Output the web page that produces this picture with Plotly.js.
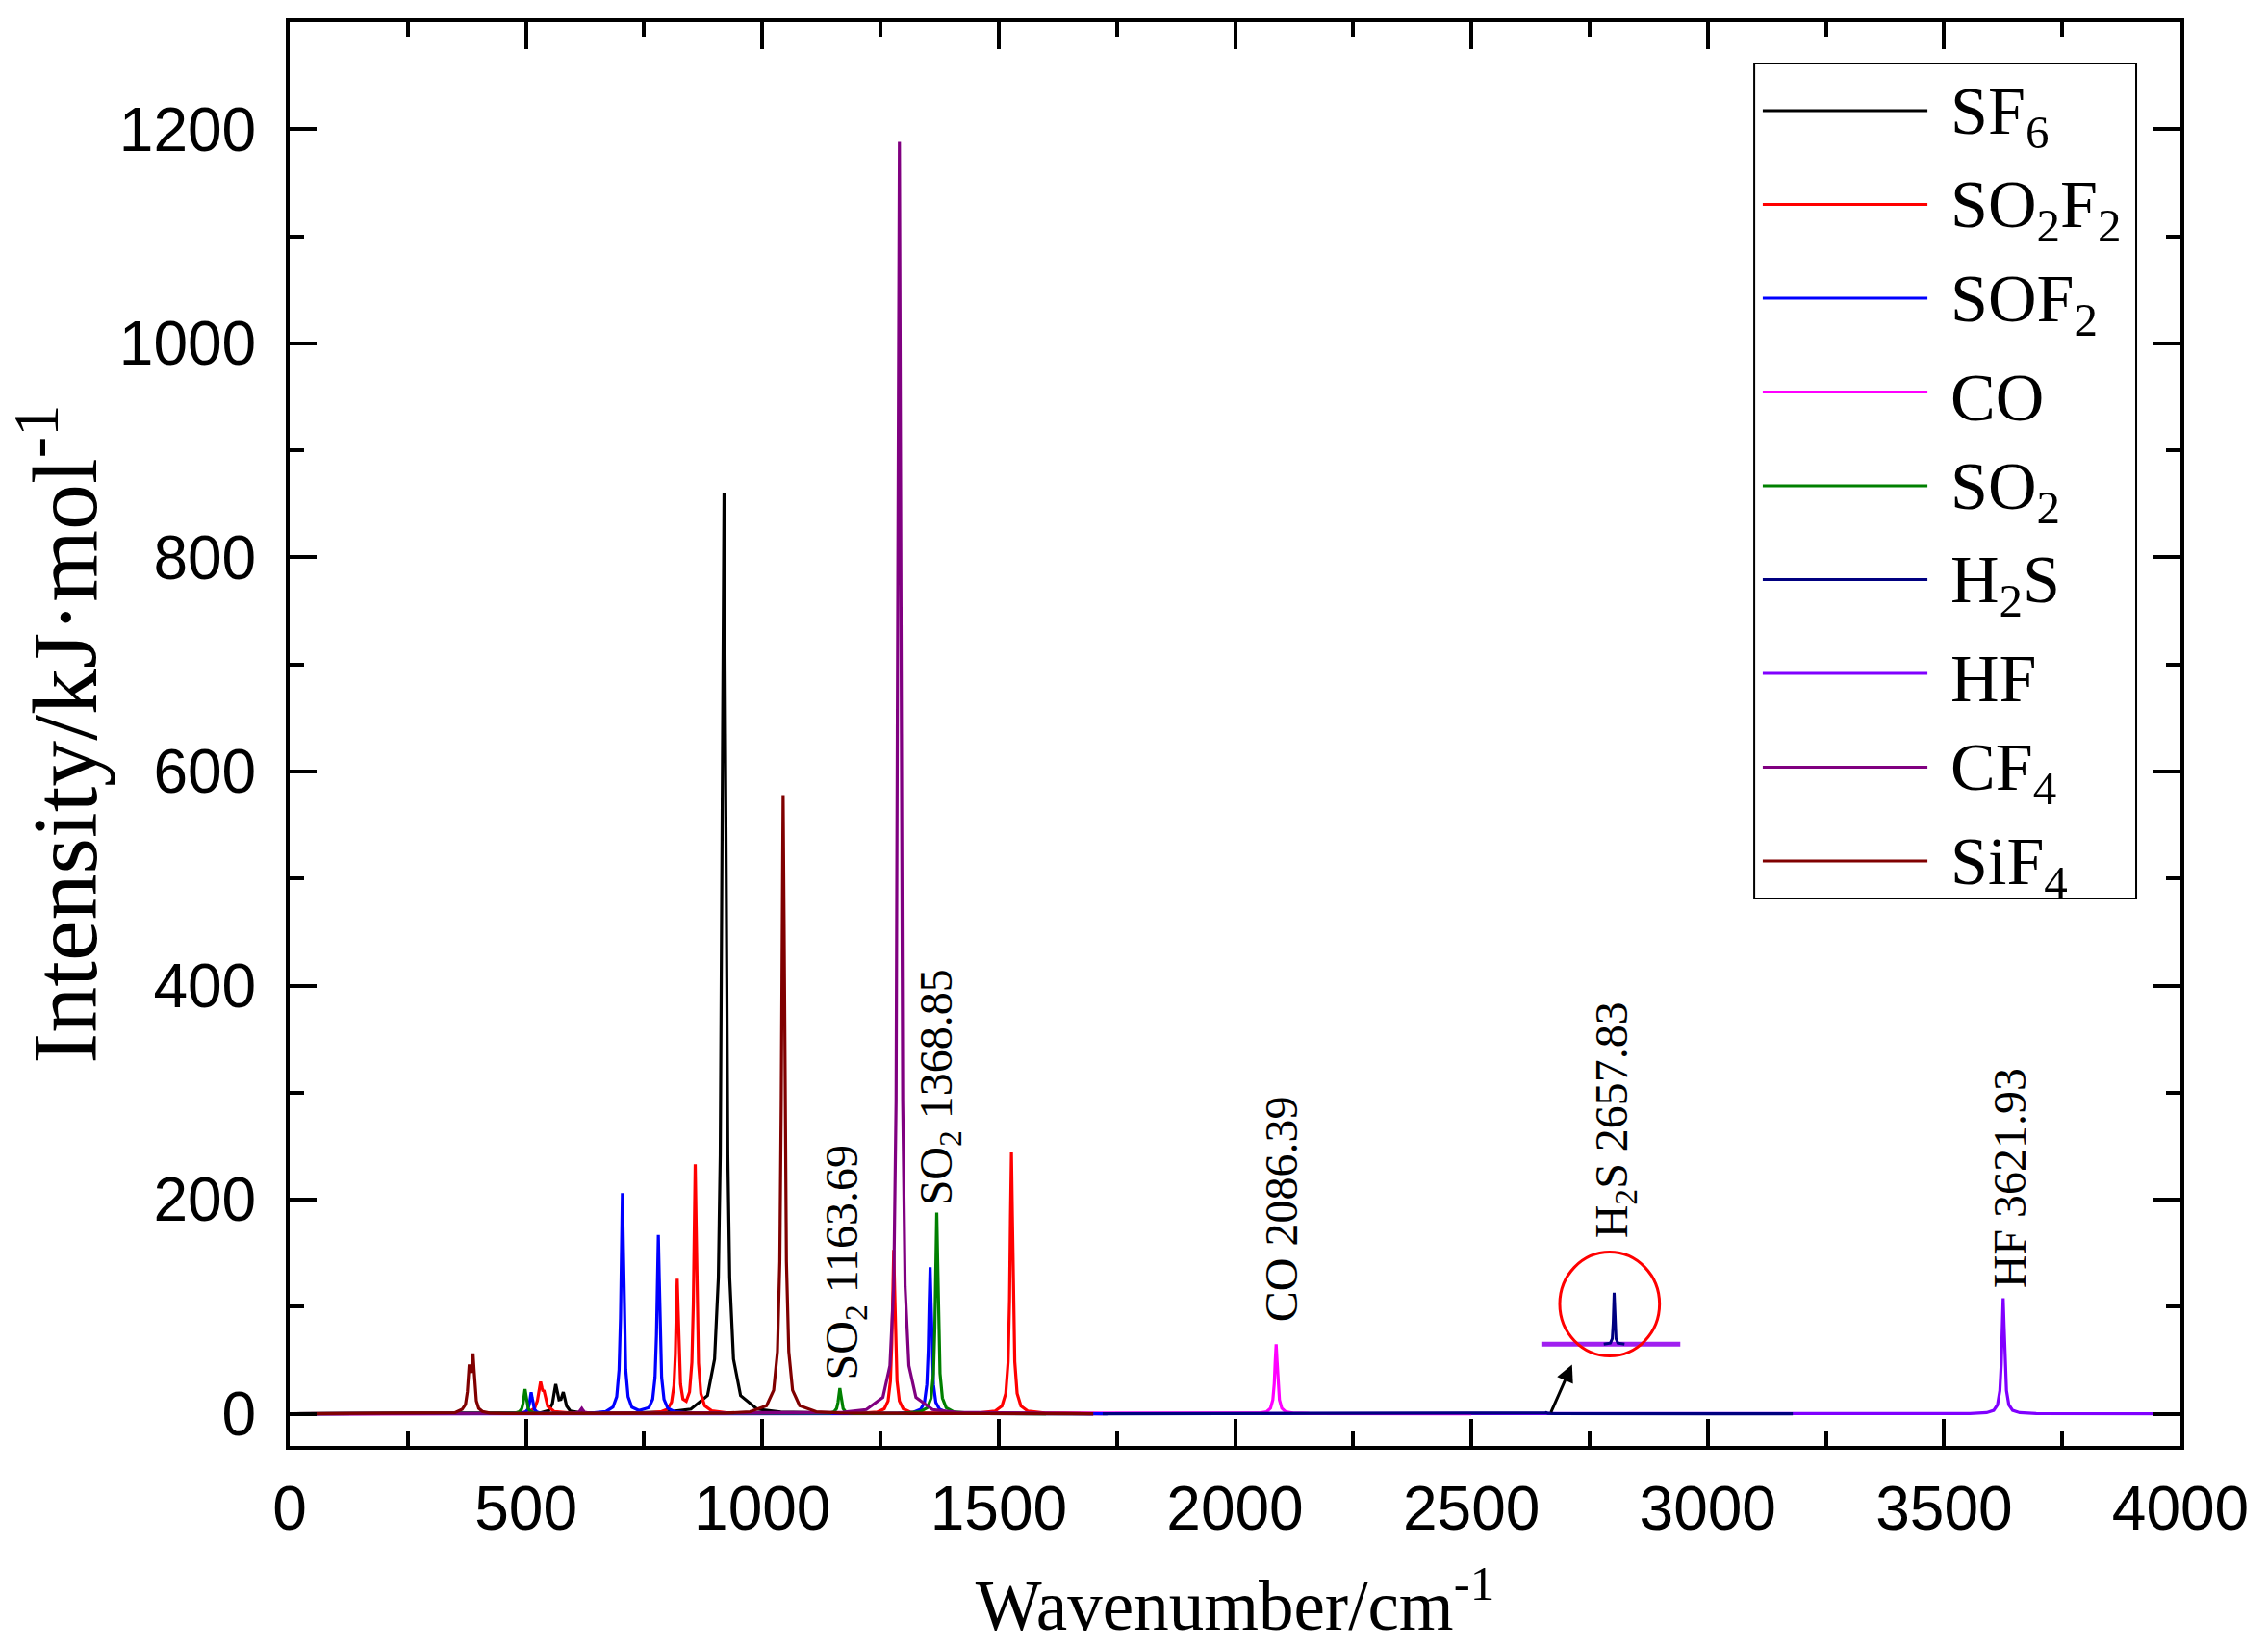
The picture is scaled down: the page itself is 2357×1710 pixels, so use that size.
<!DOCTYPE html>
<html>
<head>
<meta charset="utf-8">
<script src="https://cdn.plot.ly/plotly-3.0.1.min.js"></script>
<style>html,body{margin:0;padding:0;background:#fff;}#chart{width:2357px;height:1710px;}</style>
</head>
<body>
<div id="chart"></div>
<script>
// ---- Data ----
const seriesNames = ['SF<sub>6</sub>', 'SO<sub>2</sub>F<sub>2</sub>', 'SOF<sub>2</sub>', 'CO', 'SO<sub>2</sub>', 'H<sub>2</sub>S', 'HF', 'CF<sub>4</sub>', 'SiF<sub>4</sub>'];
const seriesColors = ['#000000', '#FF0000', '#0000FF', '#FF00FF', '#008000', '#000080', '#8000FF', '#800080', '#800000'];

const sf6X = [0, 480, 530, 548, 556, 560, 563, 566, 570, 574, 576, 579, 582, 586, 594, 615, 660, 799, 849, 884, 899, 907, 911, 914, 916, 919, 922, 924, 927, 931, 939, 954, 989, 1039, 1200, 1700];
const sf6Y = [0, 0.1, 0.8, 3.0, 9.6, 20.3, 27.6, 21.4, 13.0, 13.4, 16.6, 20.3, 14.9, 7.3, 2.4, 0.9, 0.2, 1.5, 4.3, 17, 51, 127, 241, 430, 632, 860, 632, 430, 241, 127, 51, 17, 4.3, 1.5, 0.3, 0];

const so2f2X = [0, 470, 505, 518, 524, 528, 531, 534, 536, 538, 541, 546, 560, 600, 750, 785, 800, 808, 813, 816, 818, 820, 822, 824, 827, 832, 839, 846, 851, 854, 856, 858, 860, 862, 865, 870, 878, 893, 928, 1000, 1208, 1243, 1258, 1266, 1271, 1274, 1276, 1278, 1280, 1282, 1285, 1290, 1298, 1313, 1348, 1457, 1492, 1507, 1515, 1520, 1523, 1525, 1527, 1529, 1531, 1534, 1539, 1547, 1562, 1597, 1720];
const so2f2Y = [0, 0.3, 1.5, 5, 12, 23, 30, 24, 21, 22, 16, 7, 2, 0.5, 0.55, 1.7, 4.5, 10.8, 26.2, 55.4, 95.3, 126, 95.7, 56, 27.7, 13.8, 11.7, 20.3, 48, 102, 176, 233, 176, 101.6, 47.2, 18.8, 7.5, 2.7, 0.8, 0.2, 0.4, 1.5, 4.6, 11.9, 30.6, 66.4, 115.4, 153, 115.4, 66.4, 30.6, 11.9, 4.6, 1.5, 0.4, 0.6, 2.4, 7.3, 19, 48.8, 106, 184, 244, 184, 106, 48.8, 19, 7.3, 2.4, 0.6, 0];

const sof2X = [0, 441, 476, 491, 499, 504, 507, 509, 511, 513, 515, 518, 523, 531, 546, 634, 669, 684, 692, 697, 700, 702, 704, 706, 708, 711, 716, 724, 739, 760, 768, 773, 776, 778, 780, 782, 784, 787, 792, 800, 815, 850, 1285, 1320, 1335, 1343, 1348, 1351, 1353, 1355, 1357, 1359, 1362, 1367, 1375, 1390, 1425, 1730];
const sof2Y = [0, 0.05, 0.2, 0.6, 1.6, 4, 8.7, 15, 20, 15, 8.7, 4, 1.6, 0.6, 0.2, 0.5, 2, 6.2, 16, 41, 89, 155, 206, 155, 89, 41, 16, 6.2, 3.0, 5.8, 13.6, 34, 73, 126, 167, 126, 73, 34, 13.5, 5.2, 1.7, 0.5, 0.3, 1.4, 4.1, 10.7, 27.4, 59.5, 103, 137, 103, 59.5, 27.4, 10.7, 4.1, 1.4, 0.3, 0];

const coX = [0, 2017, 2052, 2067, 2075, 2080, 2083, 2085, 2087, 2089, 2091, 2094, 2099, 2107, 2122, 2157, 2500];
const coY = [0, 0.16, 0.64, 1.95, 5.1, 13, 28, 49, 65, 49, 28, 13, 5.1, 1.95, 0.64, 0.16, 0];

const so2X = [0, 428, 463, 478, 486, 491, 494, 496, 498, 500, 502, 505, 510, 518, 533, 1094, 1129, 1144, 1152, 1157, 1160, 1162, 1164, 1166, 1168, 1171, 1176, 1184, 1199, 1299, 1334, 1349, 1357, 1362, 1365, 1367, 1369, 1371, 1373, 1376, 1381, 1389, 1404, 1439, 1600];
const so2Y = [0, 0.06, 0.23, 0.7, 1.8, 4.6, 10, 17.3, 23, 17.3, 10, 4.6, 1.8, 0.7, 0.23, 0.06, 0.24, 0.7, 1.9, 4.8, 10.4, 18, 24, 18, 10.4, 4.8, 1.9, 0.7, 0.24, 0.5, 1.9, 5.6, 14.7, 37.6, 81.6, 142, 188, 142, 81.6, 37.6, 14.7, 5.6, 1.9, 0.5, 0];

const h2sX = [1720, 2640, 2654, 2656, 2658, 2660, 2662, 2676, 3180];
const h2sY = [0, 0.1, 0.4, 0.8, 1.0, 0.8, 0.4, 0.1, 0];

const hfX = [0, 3555, 3590, 3605, 3613, 3618, 3621, 3623, 3625, 3627, 3629, 3632, 3637, 3645, 3660, 3695, 4000];
const hfY = [0, 0.27, 1.07, 3.2, 8.4, 21.6, 47, 81.4, 108, 81.4, 47, 21.6, 8.4, 3.2, 1.07, 0.27, 0];

const cf4X = [0, 600, 612, 615, 618, 621, 624, 636, 1170, 1220, 1255, 1270, 1278, 1283, 1286, 1288, 1290, 1292, 1294, 1297, 1302, 1310, 1325, 1360, 1410, 1700];
const cf4Y = [0, 0.5, 1.5, 3, 5, 3, 1.5, 0.5, 1.3, 3.9, 15.4, 45, 119, 292, 594, 950, 1188, 950, 594, 292, 119, 45, 15.4, 3.9, 1.3, 0];

const sif4X = [0, 300, 330, 350, 365, 372, 376, 378, 380, 382, 384, 386, 388, 390, 392, 395, 400, 408, 423, 460, 924, 974, 1009, 1024, 1032, 1037, 1040, 1042, 1044, 1046, 1048, 1051, 1056, 1064, 1079, 1114, 1164, 1700];
const sif4Y = [0, 0.3, 0.4, 1.0, 4.1, 8.7, 20.4, 34, 46, 41.4, 38.2, 47.3, 56.4, 42, 24.7, 12, 5, 2.1, 0.7, 0.2, 0.64, 1.9, 7.5, 22, 58, 142, 289, 462, 578, 462, 289, 142, 58, 22, 7.5, 1.9, 0.64, 0];

// magnified H2S inset (drawn inside the red circle)
const insetBaseX = [2648, 2942];
const insetBaseY = [65, 65];
const insetPeakX = [2780, 2794, 2798, 2800, 2802, 2804, 2806, 2810, 2824];
const insetPeakY = [65, 66, 70, 85, 113, 85, 70, 66, 65];

// peak labels
const labelText = ['SO<sub>2</sub> 1163.69', 'SO<sub>2</sub> 1368.85', 'CO 2086.39', 'H<sub>2</sub>S 2657.83', 'HF 3621.93'];
const labelX = [1175, 1373, 2098, 2803, 3638];
const labelY = [30, 193, 84, 162, 115];

const xTickVals = [0, 500, 1000, 1500, 2000, 2500, 3000, 3500, 4000];
const yTickVals = [0, 200, 400, 600, 800, 1000, 1200];

// ---- Build traces ----
const allX = [sf6X, so2f2X, sof2X, coX, so2X, h2sX, hfX, cf4X, sif4X];
const allY = [sf6Y, so2f2Y, sof2Y, coY, so2Y, h2sY, hfY, cf4Y, sif4Y];
// drawing order (back to front)
const drawOrder = [6, 3, 0, 1, 2, 4, 7, 8, 5];
const traces = drawOrder.map(i => ({
  type: 'scatter', mode: 'lines', name: seriesNames[i],
  x: allX[i], y: allY[i],
  line: {color: seriesColors[i], width: 3.2},
  showlegend: false, hoverinfo: 'x+y+name'
}));
traces.push({type: 'scatter', mode: 'lines', x: insetBaseX, y: insetBaseY,
  line: {color: '#A020F0', width: 5}, showlegend: false, hoverinfo: 'skip'});
traces.push({type: 'scatter', mode: 'lines', x: insetPeakX, y: insetPeakY,
  line: {color: '#000080', width: 3}, showlegend: false, hoverinfo: 'skip'});

// ---- Legend (drawn as box, sample lines and text) ----
const serif = 'Liberation Serif';
const shapes = [];
const annotations = [];
const legX0 = 0.7746, legX1 = 0.9766, legY0 = 0.3845, legY1 = 0.971;
const rowTop = 0.9378, rowStep = 0.06588;
shapes.push({type: 'rect', xref: 'paper', yref: 'paper', x0: legX0, x1: legX1, y0: legY0, y1: legY1,
  line: {color: '#000', width: 2}, fillcolor: 'rgba(255,255,255,0)'});
seriesNames.forEach((n, i) => {
  const yy = rowTop - i * rowStep;
  shapes.push({type: 'line', xref: 'paper', yref: 'paper', x0: 0.7791, x1: 0.8662, y0: yy, y1: yy,
    line: {color: seriesColors[i], width: 3}});
  annotations.push({xref: 'paper', yref: 'paper', x: 0.8774, y: yy - 0.004, xanchor: 'left', yanchor: 'middle',
    text: n, showarrow: false, font: {family: serif, size: 70, color: '#000'}});
});

// circle highlighting H2S
shapes.push({type: 'circle', xref: 'x', yref: 'y', x0: 2687, x1: 2898, y0: 54, y1: 151,
  line: {color: '#FF0000', width: 3}});

// peak labels
labelText.forEach((t, i) => {
  annotations.push({xref: 'x', yref: 'y', x: labelX[i], y: labelY[i], text: t, textangle: -90,
    xanchor: 'center', yanchor: 'bottom', showarrow: false,
    font: {family: serif, size: 48, color: '#000'}});
});
// arrow pointing to inset
annotations.push({xref: 'x', yref: 'y', axref: 'x', ayref: 'y', x: 2713, y: 46, ax: 2667, ay: 0,
  text: '', showarrow: true, arrowhead: 2, arrowsize: 1.2, arrowwidth: 3, arrowcolor: '#000'});

const axisCommon = {
  showline: true, linecolor: '#000', linewidth: 4, mirror: 'ticks',
  ticks: 'inside', ticklen: 28, tickwidth: 4, tickcolor: '#000',
  showgrid: false, zeroline: false, automargin: false,
  tickfont: {family: 'Liberation Sans, Arial, sans-serif', size: 64, color: '#000'}
};

const layout = {
  width: 2357, height: 1710,
  margin: {l: 301, r: 91, t: 23, b: 207},
  paper_bgcolor: '#fff', plot_bgcolor: '#fff',
  showlegend: false,
  xaxis: Object.assign({}, axisCommon, {
    range: [0, 4000], tickvals: xTickVals, ticklabelstandoff: 6,
    minor: {dtick: 250, ticks: 'inside', ticklen: 15, tickwidth: 4, tickcolor: '#000', showgrid: false},
    title: {text: 'Wavenumber/cm<sup>-1</sup>', font: {family: serif, size: 73, color: '#000'}, standoff: 50}
  }),
  yaxis: Object.assign({}, axisCommon, {
    range: [-30, 1300], tickvals: yTickVals, ticklabelstandoff: 18,
    minor: {dtick: 100, ticks: 'inside', ticklen: 15, tickwidth: 4, tickcolor: '#000', showgrid: false},
    title: {text: 'Intensity/kJ·mol<sup>-1</sup>', font: {family: serif, size: 96, color: '#000'}, standoff: 14}
  }),
  shapes: shapes,
  annotations: annotations
};

Plotly.newPlot('chart', traces, layout, {staticPlot: true, displayModeBar: false});
</script>
</body>
</html>
